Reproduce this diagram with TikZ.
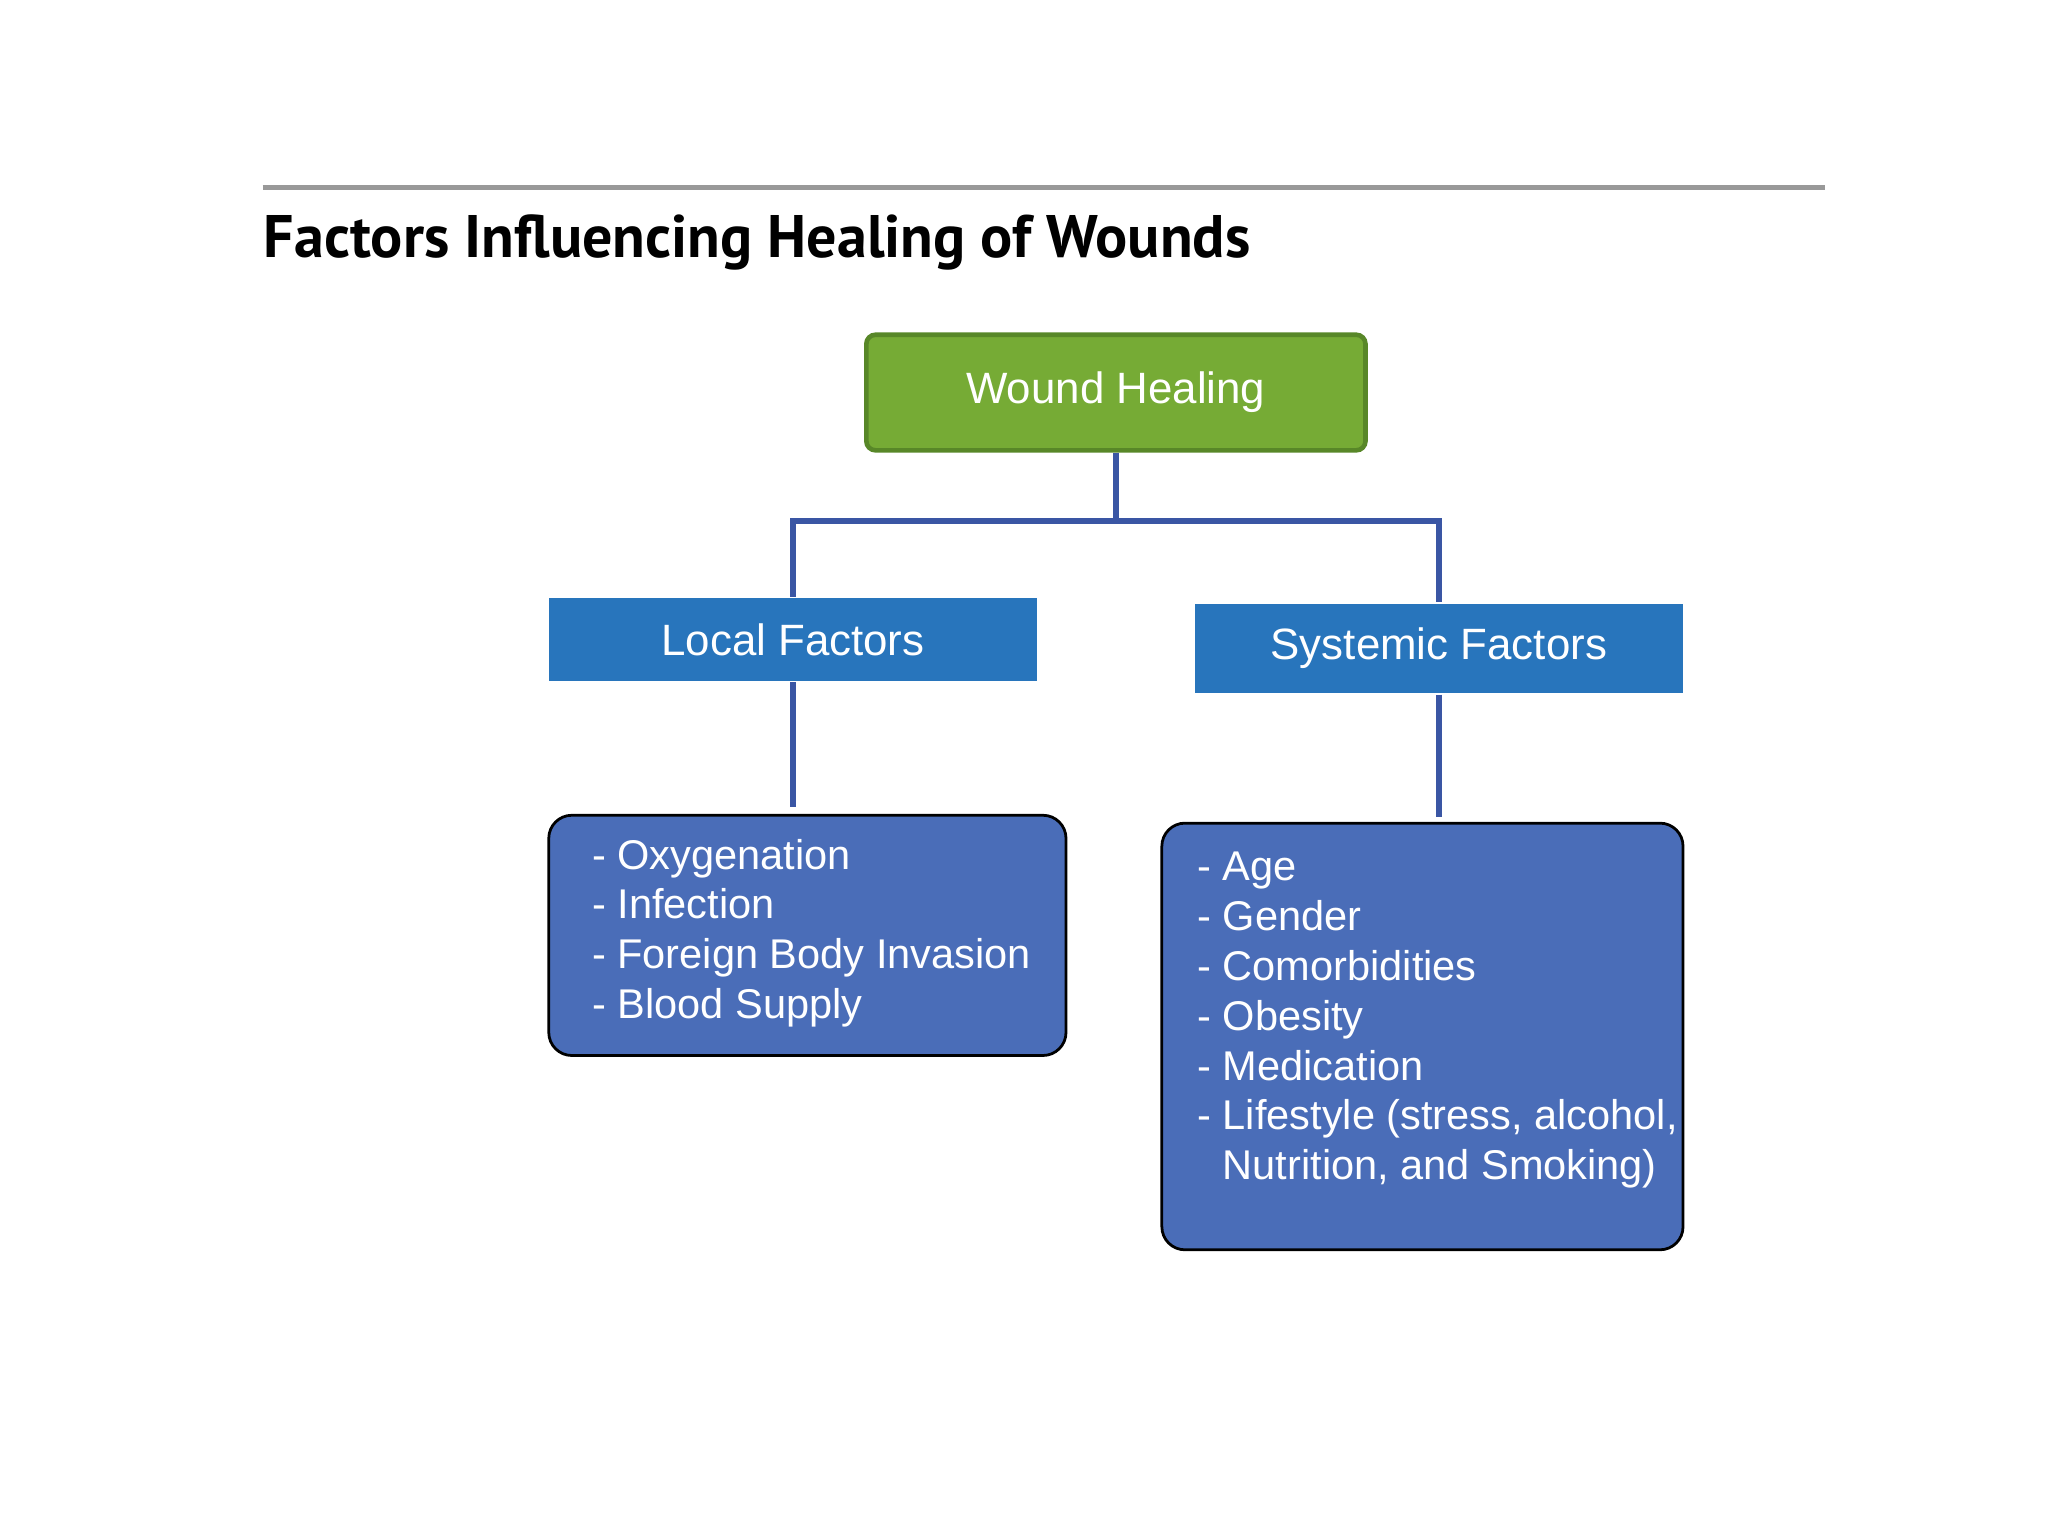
\documentclass[tikz,border=0pt]{standalone}
\usepackage{fontspec}
\setmainfont{Liberation Sans}
\newfontfamily\titlefont{PT Sans}
\usetikzlibrary{positioning}
\definecolor{lgreen}{RGB}{118,171,53}
\definecolor{dgreen}{RGB}{88,135,40}
\definecolor{hblue}{RGB}{40,117,188}
\definecolor{lblue}{RGB}{74,109,184}
\definecolor{cblue}{RGB}{58,86,164}
\begin{document}
\begin{tikzpicture}[x=0.01cm,y=-0.01cm,semithick]
  \tikzstyle{head}=[fill=hblue,text=white,minimum width=3.72cm,font=\fontsize{9.5pt}{11pt}\selectfont]
  \tikzstyle{list}=[fill=lblue,text=white,rounded corners=5pt,align=left,anchor=north west,inner sep=0pt,font=\fontsize{9pt}{10.8pt}\selectfont]
  \tikzstyle{link}=[draw=cblue,line width=1.2pt]
  \useasboundingbox (0,0) rectangle (1560,1170);
  \draw[gray!80,line width=1pt] (200,143) -- (1390,143);
  \node[anchor=west,inner sep=0pt,font=\titlefont\bfseries\fontsize{13pt}{15pt}\selectfont] (title) at (200,185) {Factors Influencing Healing of Wounds};
  \node[fill=lgreen,draw=dgreen,line width=1pt,rounded corners=2pt,text=white,minimum width=3.8cm,minimum height=0.88cm,font=\fontsize{9.5pt}{11pt}\selectfont] (wound) at (850,299) {Wound Healing};
  \node[head,minimum height=0.63cm] (local) at (604,487) {Local Factors};
  \node[head,minimum height=0.68cm] (sys) at (1096,494) {Systemic Factors};
  \draw[list] (418,621) rectangle (812,804);
  \draw[list] (885,627) rectangle (1282,952);
  \node[list,fill=none] (llist) at (450,638) {- Oxygenation\\- Infection\\- Foreign Body Invasion\\- Blood Supply};
  \node[list,fill=none] (slist) at (911,648) {- Age\\- Gender\\- Comorbidities\\- Obesity\\- Medication\\- Lifestyle (stress, alcohol,\\\phantom{- }Nutrition, and Smoking)};
  \coordinate (lt) at (604,615);
  \coordinate (st) at (1096,622);
  \draw[link] (wound.south) -- (850,397) -| (local.north);
  \draw[link] (850,397) -| (sys.north);
  \draw[link] (local.south) -- (lt);
  \draw[link] (sys.south) -- (st);
\end{tikzpicture}
\end{document}
